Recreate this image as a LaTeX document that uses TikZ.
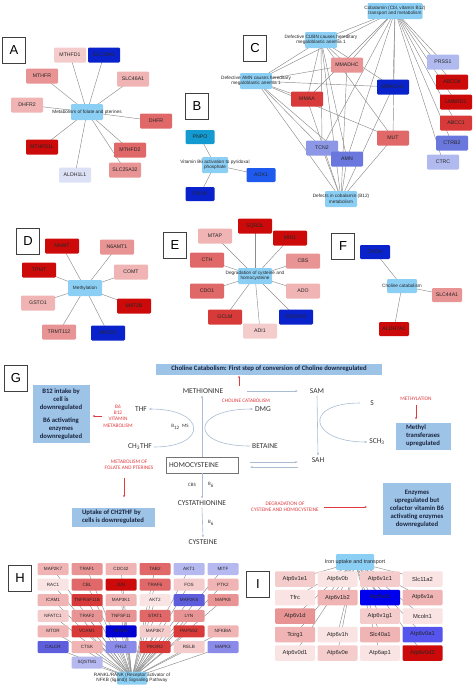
\documentclass[tikz,border=0pt]{standalone}
\usepackage{fontspec}
\setmainfont{Liberation Sans}
\newfontfamily\calfont{Carlito}
\usetikzlibrary{arrows.meta,backgrounds,calc,positioning}

\definecolor{hubblue}{HTML}{8CCFF5}
\definecolor{rdark}{HTML}{CC0A0A}
\definecolor{rmed}{HTML}{D83A3A}
\definecolor{rmid}{HTML}{E06868}
\definecolor{rpink}{HTML}{E89494}
\definecolor{rlight}{HTML}{F0B4B4}
\definecolor{rpale}{HTML}{F5CCCC}
\definecolor{rwhite}{HTML}{F9E3E3}
\definecolor{bdark}{HTML}{0A22CC}
\definecolor{bmed}{HTML}{1E5AEE}
\definecolor{bcyan}{HTML}{139AD0}
\definecolor{bmid}{HTML}{6A78DE}
\definecolor{blight}{HTML}{8C98E6}
\definecolor{bpale}{HTML}{B0BAEE}
\definecolor{bwhite}{HTML}{DDE1F5}
\definecolor{hbdark}{HTML}{0000D0}
\definecolor{hbmid}{HTML}{5E5EDC}
\definecolor{hblight}{HTML}{8A8AE8}
\definecolor{hbpale}{HTML}{B6B8F0}
\definecolor{ibdark}{HTML}{0000EE}
\definecolor{ibmid}{HTML}{5555EE}
\definecolor{gbox}{HTML}{9DC3E6}
\definecolor{gred}{HTML}{E0393E}
\definecolor{gline}{HTML}{A9BCD2}
\definecolor{navytext}{HTML}{1A2440}

\tikzset{
  gene/.style={rectangle, rounded corners=1.2pt, inner sep=0pt, minimum width=32, minimum height=15,
    font=\fontsize{5.2}{6}\selectfont, text=black!85},
  hub/.style={gene, fill=hubblue, minimum height=16},
  hublbl/.style={font=\fontsize{4.7}{5.4}\selectfont, align=center, text=black!85, inner sep=0pt},
  edge/.style={draw=black!45, line width=0.45pt},
  panel/.style={draw=black!75, line width=0.6pt, minimum width=23, minimum height=26, inner sep=0pt,
    font=\fontsize{13}{13}\selectfont},
  gtext/.style={font=\calfont\fontsize{7.5}{8}\selectfont, text=black!80, inner sep=2pt},
  gsmall/.style={font=\calfont\fontsize{5}{6}\selectfont, text=black!80, inner sep=1pt},
  redtext/.style={font=\calfont\fontsize{5.3}{6.2}\selectfont, text=gred, align=center, inner sep=1pt},
  infobox/.style={fill=gbox, font=\calfont\bfseries\fontsize{6.7}{8}\selectfont, text=navytext,
    align=center, inner sep=2pt},
  flow/.style={draw=gline, line width=0.6pt, -{Stealth[length=2.5pt,width=2.2pt]}},
  redflow/.style={draw=gred, line width=0.5pt, -{Stealth[length=2.2pt,width=2pt]}},
}

\begin{document}
\begin{tikzpicture}[x=1pt, y=-1pt]
\useasboundingbox (0,0) rectangle (474,689);

% ---- A: folate and pterines
\node[panel] (labA) at (14,50) {A};
\node[hub, label={[hublbl]center:Metabolism of folate and pterines}] (A0) at (87,112) {};
\foreach \n/\x/\y/\c in {MTHFD1/70/55/rpale, SLC19A1/104/55/bdark, MTHFR/42/76/rpink,
  SLC46A1/133/79/rlight, DHFR2/27/105/rlight, DHFR/156/121/rmid, MTHFD1L/42/147/rdark,
  MTHFD2/130/150/rmid, ALDH1L1/75/175/bwhite, SLC25A32/125/170/rpink}
  \node[gene, fill=\c] (A-\n) at (\x,\y) {\n};

% ---- B: vitamin B6
\node[panel] (labB) at (197,106) {B};
\node[hub, minimum width=26, label={[hublbl]center:Vitamin B6 activation to pyridoxal\\phosphate}] (B0) at (215,165) {};
\foreach \n/\x/\y/\c in {PNPO/200/137/bcyan, AOX1/261/175/bmed, PDXK/200/194/bdark}
  \node[gene, fill=\c, minimum width=29, minimum height=14] (B-\n) at (\x,\y) {\n};

% ---- C: cobalamin
\node[panel] (labC) at (255,48) {C};
\node[hub, minimum width=55, label={[hublbl]center:{Cobalamin (Cbl, vitamin B12)\\transport and metabolism}}] (C1) at (395,11) {};
\node[hub, label={[hublbl]center:Defective CUBN causes hereditary\\megaloblastic anemia 1}] (C2) at (321,40) {};
\node[hub, label={[hublbl]center:Defective AMN causes hereditary\\megaloblastic anemia 1}] (C3) at (256,81) {};
\node[hub, label={[hublbl]center:Defects in cobalamin (B12)\\metabolism}] (C4) at (341,199) {};
\foreach \n/\x/\y/\c in {MMADHC/347/65/rpink, MMACHC/393/87/bdark, MMAA/307/99/rmed,
  PRSS1/443/62/bpale, ABCD4/452/82/rdark, LMBRD1/456/102/rdark, ABCC1/456/123/rmed,
  MUT/393/138/rmid, CTRB2/452/143/bmid, CTRC/443/162/bpale, TCN2/322/148/blight, AMN/347/159/bmid}
  \node[gene, fill=\c] (C-\n) at (\x,\y) {\n};

% ---- D: methylation
\node[panel] (labD) at (28,241) {D};
\node[hub, minimum width=34, label={[hublbl]center:Methylation}] (D0) at (85,288) {};
\foreach \n/\x/\y/\c in {NNMT/62/246/rdark, N6AMT1/117/247/rpink, TPMT/39/270/rdark,
  COMT/131/272/rlight, GSTO1/38/303/rlight, MAT2B/134/306/rdark, TRMT112/59/332/rpink,
  MAT2A/108/333/bdark}
  \node[gene, fill=\c, minimum width=34] (D-\n) at (\x,\y) {\n};

% ---- E: cysteine and homocysteine
\node[panel] (labE) at (175,245) {E};
\node[hub, minimum width=34, label={[hublbl]center:Degradation of cysteine and\\homocysteine}] (E0) at (255,276) {};
\foreach \n/\x/\y/\c in {MTAP/215/236/rlight, SQRDL/255/226/rdark, MRI1/290/238/rdark,
  CTH/207/260/rmid, CBS/303/261/rpink, CDO1/207/291/rmid, ADO/303/291/rlight,
  GCLM/225/317/rmed, ENOPH1/296/317/bdark, ADI1/260/331/rpale}
  \node[gene, fill=\c, minimum width=34] (E-\n) at (\x,\y) {\n};

% ---- F: choline
\node[panel] (labF) at (343,246) {F};
\node[hub, minimum width=30, minimum height=14, label={[hublbl]center:Choline catabolism}] (F0) at (402,286) {};
\foreach \n/\x/\y/\c in {CHDH/375/252/bdark, SLC44A1/447/295/rpink, ALDH7A1/394/329/rdark}
  \node[gene, fill=\c, minimum width=30, minimum height=14] (F-\n) at (\x,\y) {\n};

% ---- G: scheme
\node[panel] (labG) at (16,378) {G};
\node[infobox, minimum width=226, minimum height=11, inner sep=1pt] (cholbox) at (269,369)
  {Choline Catabolism: First step of conversion of Choline downregulated};
\node[infobox, minimum width=57, minimum height=58] (b12box) at (61,414)
  {B12 intake by\\cell is\\downregulated\\[5pt]B6 activating\\enzymes\\downregulated};
\node[infobox, minimum width=83, minimum height=19, align=left] (upbox) at (113,517)
  {Uptake of CH2THF by\\cells is downregulated};
\node[infobox, minimum width=55, minimum height=27, align=left] (mtbox) at (423,436)
  {Methyl\\transferases\\upregulated};
\node[infobox, minimum width=68, minimum height=52] (enzbox) at (417,509)
  {Enzymes\\upregulated but\\cofactor vitamin B6\\activating enzymes\\downregulated};

\node[gtext] (met) at (203,391) {METHIONINE};
\node[gtext] (sam) at (317,391) {SAM};
\node[gtext] (dmg) at (263,409) {DMG};
\node[gtext] (bet) at (265,446) {BETAINE};
\node[gtext] (thf) at (141,409) {THF};
\node[gtext] (ch3thf) at (140,447) {CH\textsubscript{3}THF};
\node[gtext, draw=black!55, line width=0.6pt, text width=66, inner sep=3pt, minimum height=16,
  align=left] (hcy) at (202,465) {HOMOCYSTEINE};
\node[gtext] (sah) at (318,460) {SAH};
\node[gtext] (s) at (372,403) {S};
\node[gtext] (sch3) at (377,442) {SCH\textsubscript{3}};
\node[gtext] (cysta) at (202,503) {CYSTATHIONINE};
\node[gtext] (cys) at (203,542) {CYSTEINE};
\node[gsmall] (b12ms) at (180,427) {B\textsubscript{12}\enspace MS};
\node[gsmall] (cbs) at (192,485) {CBS};
\node[gsmall] (b6a) at (211,485) {B\textsubscript{6}};
\node[gsmall] (b6b) at (211,523) {B\textsubscript{6}};

\node[redtext] (cholcat) at (246,401) {CHOLINE CATABOLISM};
\node[redtext] (vitmet) at (118,416) {B6\\B12\\VITAMIN\\METABOLISM};
\node[redtext] (folmet) at (129,465) {METABOLISM OF\\FOLATE AND PTERINES};
\node[redtext] (methyl) at (416,399) {METHYLATION};
\node[redtext] (degcys) at (285,507) {DEGRADATION OF\\CYSTEINE AND HOMOCYSTEINE};

\draw[flow] (hcy.north) -- (hcy.north |- met.south);
\draw[flow] ($(met.east)+(22,0)$) -- ($(sam.west)+(-10,0)$);
\draw[flow] (sam.south) -- (sah.north);
\draw[flow] ($(hcy.east)+(12,-3)$) -- ($(hcy.east -| sah.west)+(-12,-3)$);
\draw[flow] ($(hcy.east -| sah.west)+(-12,2)$) -- ($(hcy.east)+(12,2)$);
\draw[flow] (hcy.south) -- (cysta.north);
\draw[flow] (cysta.south) -- (cys.north);
\draw[flow] (ch3thf.east) .. controls +(54,0) and +(58,0) .. (thf.east);
\draw[flow] (bet.west) .. controls +(-62,0) and +(-62,0) .. (dmg.west);
\draw[flow] ($(s.west)+(-8,0)$) .. controls +(-58,0) and +(-58,0) .. (sch3.west);

\draw[redflow] ($(cholbox.south)+(-30,11)$) -- ($(cholbox.south)+(-30,1)$);
\draw[redflow, shorten >=3pt] (vitmet.west) -- (vitmet.west -| b12box.east);
\draw[redflow, shorten <=7pt, shorten >=10pt] ($(folmet.south)+(-5,0)$) -- ($(folmet.south |- upbox.north)+(-5,0)$);
\draw[redflow, shorten <=3pt, shorten >=3pt] (methyl.south) -- (methyl.south |- mtbox.north);
\draw[redflow, shorten <=4pt, shorten >=16pt] (degcys.east) -- (degcys.east -| enzbox.west);

% ---- H: RANKL/RANK
\node[panel] (labH) at (20,578) {H};
\node[hub, minimum width=30, minimum height=13,
  label={[hublbl]center:RANKL/RANK (Receptor activator of\\NFKB (ligand)) Signaling Pathway}] (H0) at (132,678) {};
\foreach \n/\cl/\rw/\c in {MAP2K7/1/1/rlight, TRAF1/2/1/rpink, CDC42/3/1/rlight, TAB2/4/1/rmid,
  AKT1/5/1/hbpale, MITF/6/1/hbpale,
  RAC1/1/2/rwhite, CBL/2/2/rmid, JUN/3/2/rdark, TRAF6/4/2/rmid, FOS/5/2/rpale, PTK2/6/2/rlight,
  ICAM1/1/3/rlight, TNFRSF11B/2/3/rmed, MAP3K1/3/3/rlight, AKT2/4/3/rwhite, MAP2K6/5/3/hbmid, MAPK8/6/3/rpink,
  NFATC1/1/4/rpale, TRAF2/2/4/rpink, TNFSF11/3/4/rpink, STAT1/4/4/rmid, LYN/5/4/rpink,
  MTOR/1/5/rlight, VCAM1/2/5/rmed, NFKB1/3/5/hbdark, MAP3K7/4/5/rpale, PAPSS2/5/5/rmed, NFKBIA/6/5/rlight,
  CALCR/1/6/hbmid, CTSK/2/6/rlight, FHL2/3/6/hblight, PIK3R2/4/6/rmed, RELB/5/6/rpale, MAPK3/6/6/hblight,
  SQSTM1/2/7/hbpale}
  \node[gene, fill=\c, minimum width=31, minimum height=12, font=\fontsize{4.6}{5}\selectfont]
    (H-\n) at ({19+34*\cl},{553.4+15.6*\rw}) {\n};

% ---- I: iron
\node[panel] (labI) at (258,584) {I};
\node[hub, minimum width=38, label={[hublbl, font=\fontsize{5.4}{6}\selectfont]center:Iron uptake and transport}] (I0) at (355,562) {};
\foreach \n/\cl/\rw/\c in {Atp6v1e1/1/1/rpale, Atp6v0b/2/1/rwhite, Atp6v1c1/3/1/rpale, Slc11a2/4/1/rwhite,
  Tfrc/1/2/rwhite, Atp6v1b2/2/2/rlight, Atp6v0c/3/2/ibdark, Atp6v1a/4/2/rlight,
  Atp6v1d/1/3/rpink, Atp6v1g1/3/3/rpale, Mcoln1/4/3/rwhite,
  Tcirg1/1/4/rlight, Atp6v1h/2/4/rwhite, Slc40a1/3/4/rlight, Atp6v0a1/4/4/ibmid,
  Atp6v0d1/1/5/rwhite, Atp6v0e/2/5/rpale, Atp6ap1/3/5/rwhite, Atp6v0d2/4/5/rdark}
  \node[gene, fill=\c, minimum width=40, minimum height=15.5, font=\fontsize{5.8}{6}\selectfont]
    (I-\n) at ({252.5+42.5*\cl},{560.5+18.5*\rw}) {\n};

% ---- edges behind the boxes
\begin{scope}[on background layer]
\foreach \n in {MTHFD1,SLC19A1,MTHFR,SLC46A1,DHFR2,DHFR,MTHFD1L,MTHFD2,ALDH1L1,SLC25A32}
  \draw[edge] (A0.center) -- (A-\n.center);
\foreach \n in {PNPO,AOX1,PDXK}
  \draw[edge] (B0.center) -- (B-\n.center);
\foreach \n in {MMADHC,MMACHC,MMAA,PRSS1,ABCD4,LMBRD1,ABCC1,MUT,CTRB2,CTRC,TCN2,AMN}
  \draw[edge] (C1.center) -- (C-\n.center);
\foreach \h in {C2,C3}
  \draw[edge] (C1.center) -- (\h.center);
\foreach \h in {C2,C3,C4}
  \foreach \n in {MMADHC,MMACHC,MMAA,MUT,TCN2,AMN}
    \draw[edge] (\h.center) -- (C-\n.center);
\draw[edge] (C2.center) -- (C3.center);
\draw[edge] (C2.center) -- (C4.center);
\draw[edge] (C3.center) -- (C4.center);
\foreach \n in {NNMT,N6AMT1,TPMT,COMT,GSTO1,MAT2B,TRMT112,MAT2A}
  \draw[edge] (D0.center) -- (D-\n.center);
\foreach \n in {MTAP,SQRDL,MRI1,CTH,CBS,CDO1,ADO,GCLM,ENOPH1,ADI1}
  \draw[edge] (E0.center) -- (E-\n.center);
\foreach \n in {CHDH,SLC44A1,ALDH7A1}
  \draw[edge] (F0.center) -- (F-\n.center);
\foreach \n in {MAP2K7,TRAF1,CDC42,TAB2,AKT1,MITF,RAC1,CBL,JUN,TRAF6,FOS,PTK2,ICAM1,TNFRSF11B,
  MAP3K1,AKT2,MAP2K6,MAPK8,NFATC1,TRAF2,TNFSF11,STAT1,LYN,MTOR,VCAM1,NFKB1,MAP3K7,PAPSS2,NFKBIA,
  CALCR,CTSK,FHL2,PIK3R2,RELB,MAPK3,SQSTM1}
  \draw[edge] (H0.center) -- (H-\n.center);
\foreach \n in {Atp6v1e1,Atp6v0b,Atp6v1c1,Slc11a2,Tfrc,Atp6v1b2,Atp6v0c,Atp6v1a,Atp6v1d,Atp6v1g1,
  Mcoln1,Tcirg1,Atp6v1h,Slc40a1,Atp6v0a1,Atp6v0d1,Atp6v0e,Atp6ap1,Atp6v0d2}
  \draw[edge] (I0.center) -- (I-\n.center);
\end{scope}
\end{tikzpicture}
\end{document}
